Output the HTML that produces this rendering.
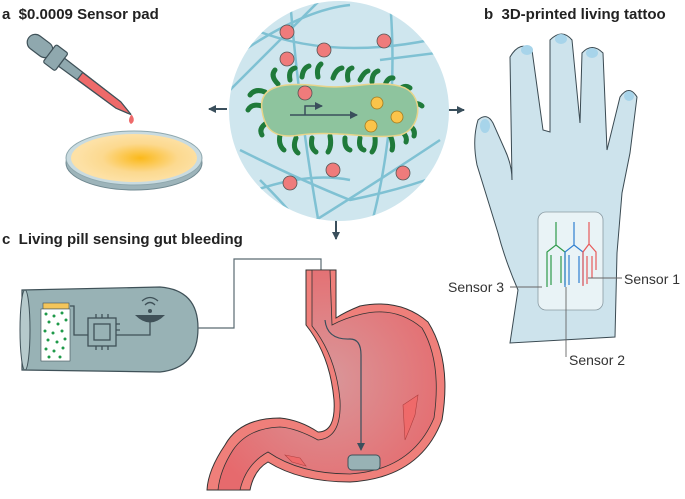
<!DOCTYPE html>
<html><head><meta charset="utf-8"><style>
html,body{margin:0;padding:0;background:#fff;}
svg{display:block;font-family:"Liberation Sans",sans-serif;}
</style></head><body>
<svg width="685" height="499" viewBox="0 0 685 499" xmlns="http://www.w3.org/2000/svg">
<defs>
<radialGradient id="pd" cx="0.55" cy="0.5" r="0.5"><stop offset="0" stop-color="#fbb91a"/><stop offset="0.6" stop-color="#fcd98f"/><stop offset="1" stop-color="#fde1a6"/></radialGradient>
<radialGradient id="st" cx="0.5" cy="0.5" r="0.6"><stop offset="0" stop-color="#d9979a"/><stop offset="1" stop-color="#e66a6d"/></radialGradient>
<marker id="ah" markerWidth="8" markerHeight="8" refX="7" refY="4" orient="auto" markerUnits="userSpaceOnUse"><path d="M0,0 L8,4 L0,8 Z" fill="#3a4f5c"/></marker>
</defs>
<text x="2" y="19" font-size="15" font-weight="bold" fill="#222">a&#160;&#160;$0.0009 Sensor pad</text>
<text x="484" y="19" font-size="15" font-weight="bold" fill="#222">b&#160;&#160;3D-printed living tattoo</text>
<text x="2" y="244" font-size="15" font-weight="bold" fill="#222">c&#160;&#160;Living pill sensing gut bleeding</text>

<g transform="translate(48,52) rotate(37)">
<rect x="-24" y="-8" width="28" height="16" rx="8" fill="#8fa8ae" stroke="#3f5158" stroke-width="1.2"/>
<rect x="2" y="-11" width="15" height="22" rx="2" fill="#8fa8ae" stroke="#3f5158" stroke-width="1.2"/>
<path d="M17,-5 L88,-4 L104,0 L88,4 L17,5 Z" fill="#8fa8ae" stroke="#3f5158" stroke-width="1.2"/>
<path d="M40,-4.5 L88,-4 L104,0 L88,4 L40,4.5 Z" fill="#ee6a6a" stroke="#3f5158" stroke-width="1.2"/>
</g>
<path d="M131,115 Q127,121 131,124 Q136,121 132,115 Z" fill="#ee6a6a"/>
<ellipse cx="134" cy="163" rx="68" ry="27" fill="#9db4ba" stroke="#6f8890" stroke-width="1"/>
<ellipse cx="134" cy="158" rx="68" ry="27" fill="#c9dbe0" stroke="#8fa8ae" stroke-width="1"/>
<ellipse cx="134" cy="158" rx="63" ry="24" fill="url(#pd)"/>

<line x1="227" y1="109" x2="209" y2="109" stroke="#3a4f5c" stroke-width="2" marker-end="url(#ah)"/>
<line x1="447" y1="110" x2="464" y2="110" stroke="#3a4f5c" stroke-width="2" marker-end="url(#ah)"/>
<line x1="336" y1="220" x2="336" y2="239" stroke="#3a4f5c" stroke-width="2" marker-end="url(#ah)"/>

<clipPath id="cc"><circle cx="339" cy="111" r="110"/></clipPath>
<circle cx="339" cy="111" r="110" fill="#cfe6ee"/>
<g clip-path="url(#cc)" stroke="#7fc1d3" stroke-width="2.5" fill="none">
<path d="M255,30 Q330,60 430,40"/><path d="M230,60 Q300,10 350,5"/>
<path d="M380,60 Q420,55 460,50"/><path d="M230,90 Q280,40 320,0"/>
<path d="M240,150 Q300,180 350,200 Q400,190 440,175"/><path d="M290,0 Q300,120 320,230"/>
<path d="M390,0 Q400,120 370,230"/><path d="M230,200 Q300,170 350,180"/>
<path d="M300,230 Q380,180 440,140"/><path d="M260,180 Q290,210 300,225"/>
</g>
<g stroke="#1f7a3a" stroke-width="5" fill="none" stroke-linecap="round">
<path d="M265,92 Q255,88 250,95"/><path d="M262,106 Q252,103 248,110"/><path d="M268,122 Q258,128 262,135"/>
<path d="M278,84 Q270,76 275,70"/><path d="M290,80 Q288,70 295,68"/><path d="M302,77 Q303,68 309,66"/>
<path d="M318,77 Q316,68 321,64"/><path d="M333,78 Q336,69 342,68"/><path d="M348,80 Q346,70 352,68"/>
<path d="M360,80 Q364,72 368,71"/><path d="M372,82 Q372,73 378,71"/><path d="M385,85 Q388,77 393,78"/>
<path d="M398,90 Q405,84 410,88"/><path d="M410,104 Q418,102 422,106"/><path d="M408,125 Q416,129 414,136"/>
<path d="M280,135 Q278,145 284,150"/><path d="M296,138 Q292,148 298,153"/><path d="M312,138 Q310,148 316,152"/>
<path d="M330,136 Q332,146 328,152"/><path d="M345,138 Q344,148 350,150"/><path d="M360,138 Q358,148 364,150"/>
<path d="M375,137 Q376,147 372,152"/><path d="M390,135 Q394,144 392,150"/><path d="M400,130 Q408,136 406,142"/>
</g>
<path d="M262,110 C258,85 285,82 320,86 C350,90 380,78 405,88 C425,98 420,130 400,135 C370,140 340,130 300,135 C270,140 264,125 262,110 Z" fill="#8ec49e" stroke="#e8d48a" stroke-width="1.5"/>
<line x1="290" y1="115" x2="357" y2="115" stroke="#3a4f5c" stroke-width="1.5" marker-end="url(#ah)"/>
<path d="M305,115 V106 H322" stroke="#3a4f5c" stroke-width="1.5" fill="none" marker-end="url(#ah)"/>
<g fill="#ef7b7b" stroke="#555" stroke-width="0.8">
<circle cx="287" cy="32" r="7"/><circle cx="324" cy="50" r="7"/><circle cx="384" cy="41" r="7"/>
<circle cx="287" cy="59" r="7"/><circle cx="305" cy="93" r="7"/><circle cx="333" cy="170" r="7"/>
<circle cx="403" cy="173" r="7"/><circle cx="290" cy="183" r="7"/>
</g>
<g fill="#fbc44a" stroke="#a07a20" stroke-width="0.8">
<circle cx="377" cy="103" r="6"/><circle cx="397" cy="117" r="6"/><circle cx="371" cy="126" r="6"/>
</g>

<path d="M510,343 L518,290 Q505,260 498,233 L477,165 Q472,140 478,120 Q487,112 493,123 L505,150 Q512,165 512,180 L510,57 Q520,40 532,50 L543,130 L550,132 L550,40 Q562,28 572,40 L580,123 L582,53 Q592,42 603,53 L607,150 L620,97 Q629,84 637,97 L630,153 L622,193 L617,253 L615,337 Z" fill="#cde3ec" stroke="#3a4a52" stroke-width="1"/>
<g fill="#a7d4ea"><ellipse cx="527" cy="50" rx="6" ry="5"/><ellipse cx="561" cy="39" rx="6" ry="5"/><ellipse cx="592" cy="53" rx="6" ry="5"/><ellipse cx="629" cy="96" rx="5" ry="5"/><ellipse cx="485" cy="126" rx="5" ry="7"/></g>
<rect x="538" y="212" width="65" height="98" rx="8" fill="#e9f3f6" stroke="#8a9aa2" stroke-width="0.8"/>
<g stroke-width="1.2" fill="none">
<path d="M556,222 V245 L547,252 V287 M556,245 L565,252 V285 M551,255 V285 M561,256 V283" stroke="#2e9a4a"/>
<path d="M574,222 V245 L565,252 V287 M574,245 L583,252 V285 M569,255 V285 M579,256 V283" stroke="#2f7fd0"/>
<path d="M589,222 V244 L583,252 V286 M589,244 L596,252 V270 M587,256 V284 M592,256 V278" stroke="#e85a5a"/>
</g>
<g stroke="#666" stroke-width="0.9" fill="none">
<line x1="510" y1="287" x2="542" y2="287"/><line x1="588" y1="278" x2="622" y2="278"/>
<line x1="566" y1="287" x2="566" y2="357"/>
</g>
<g font-size="14" fill="#333">
<text x="448" y="292">Sensor 3</text><text x="624" y="284">Sensor 1</text><text x="569" y="365">Sensor 2</text>
</g>

<path d="M22,290 L160,287 Q198,290 198,328 Q198,368 160,372 L22,370 Z" fill="#98b2b5" stroke="#3f5158" stroke-width="1.2"/>
<ellipse cx="25" cy="330" rx="5" ry="40" fill="#b6cacc" stroke="#3f5158" stroke-width="1"/>
<rect x="43" y="303" width="26" height="6" fill="#f4c55a" stroke="#3f5158" stroke-width="0.6"/>
<rect x="41" y="309" width="29" height="52" fill="#fff" stroke="#3f5158" stroke-width="0.6"/>
<g fill="#1f9a4a">
<circle cx="46" cy="314" r="1.5"/><circle cx="54" cy="316" r="1.5"/><circle cx="62" cy="313" r="1.5"/><circle cx="49" cy="322" r="1.5"/><circle cx="58" cy="324" r="1.5"/><circle cx="66" cy="320" r="1.5"/>
<circle cx="45" cy="331" r="1.5"/><circle cx="53" cy="333" r="1.5"/><circle cx="62" cy="331" r="1.5"/><circle cx="48" cy="340" r="1.5"/><circle cx="57" cy="342" r="1.5"/><circle cx="65" cy="339" r="1.5"/>
<circle cx="46" cy="349" r="1.5"/><circle cx="54" cy="351" r="1.5"/><circle cx="63" cy="348" r="1.5"/><circle cx="49" cy="357" r="1.5"/><circle cx="60" cy="357" r="1.5"/>
</g>
<g stroke="#3f5158" stroke-width="1.3" fill="none">
<path d="M70,306 H74 V335 H88"/><path d="M116,335 H150 V318"/>
<rect x="88" y="318" width="28" height="28"/><rect x="94" y="324" width="16" height="16"/>
<path d="M96,314 V318 M102,314 V318 M108,314 V318 M96,346 V350 M102,346 V350 M108,346 V350 M116,324 H120 M116,330 H120"/>
</g>
<path d="M135,315 Q150,330 165,315 Z" fill="#3f5158"/>
<circle cx="150" cy="311" r="2" fill="#3f5158"/>
<path d="M145,305 Q150,300 155,305 M142,301 Q150,294 158,301" stroke="#3f5158" stroke-width="1.3" fill="none"/>
<path d="M198,328 H234 V259 H321 V317" stroke="#5a6a72" stroke-width="1.2" fill="none" marker-end="url(#ah)"/>

<path d="M306,270 L306,325 Q330,355 334,400 Q336,432 318,432 Q300,420 280,418 Q240,418 225,445 Q208,470 207,490 L250,490 Q254,470 268,462 Q300,482 350,482 Q420,478 442,420 Q452,360 428,322 Q400,298 360,306 Q345,312 336,318 L336,270 Z" fill="#ef7f7a" stroke="#333" stroke-width="1"/>
<path d="M312,270 L312,326 Q336,356 340,400 Q342,438 318,440 Q296,428 280,427 Q248,428 233,450 Q220,470 218,490 L240,490 Q246,464 268,452 Q300,474 350,474 Q412,470 434,418 Q442,362 422,328 Q396,306 362,314 Q345,318 332,325 L330,270 Z" fill="url(#st)" stroke="#333" stroke-width="0.8"/>
<path d="M325,320 Q327,340 350,339 Q361,339 361,355 L361,450" stroke="#3a4f5c" stroke-width="1.2" fill="none" marker-end="url(#ah)"/>
<rect x="348" y="455" width="32" height="15" rx="4" fill="#98b2b5" stroke="#3f5158" stroke-width="1"/>
<path d="M403,405 L418,395 L415,415 L410,428 L405,440 Z" fill="#ef6a6a" stroke="#b04040" stroke-width="0.6"/>
<path d="M285,455 L300,458 L306,466 L292,462 Z" fill="#ef6a6a" stroke="#b04040" stroke-width="0.6"/>
</svg>
</body></html>
